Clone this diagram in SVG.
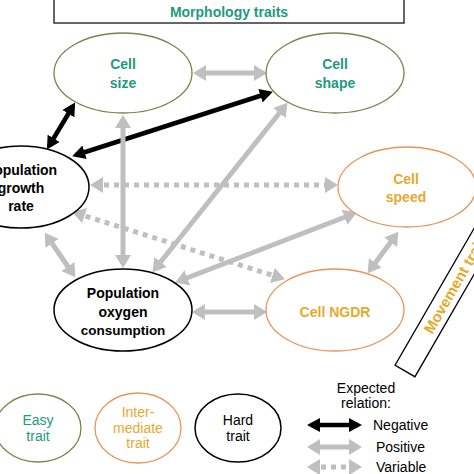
<svg xmlns="http://www.w3.org/2000/svg" width="474" height="474" viewBox="0 0 474 474">
<style>
text{font-family:"Liberation Sans",Arial,sans-serif;font-size:14px;text-anchor:middle}
.b{font-weight:bold}
.teal{fill:#1d9b7c}
.gold{fill:#e6a92e}
.blk{fill:#000}
.easy{fill:#fff;stroke:#76864a;stroke-width:1.3}
.mid{fill:#fff;stroke:#e8955a;stroke-width:1.3}
.hard{fill:#fff;stroke:#000;stroke-width:1.5}
.pos{stroke:#bfbfbf;stroke-width:5;fill:none;marker-start:url(#ag);marker-end:url(#ag)}
.var{stroke:#bfbfbf;stroke-width:5;fill:none;stroke-dasharray:5 5;marker-start:url(#ag);marker-end:url(#ag)}
.neg{stroke:#000;stroke-width:4.5;fill:none;marker-start:url(#ab);marker-end:url(#ab)}
</style>
<defs>
<marker id="ag" markerUnits="userSpaceOnUse" markerWidth="14" markerHeight="18" refX="9" refY="8" orient="auto-start-reverse" viewBox="0 0 14 16">
<path d="M0,0 L13,8 L0,16 z" fill="#bfbfbf"/>
</marker>
<marker id="ab" markerUnits="userSpaceOnUse" markerWidth="14" markerHeight="16" refX="9" refY="7" orient="auto-start-reverse" viewBox="0 0 14 14">
<path d="M0,0 L13,7 L0,14 z" fill="#000"/>
</marker>
</defs>
<rect width="474" height="474" fill="#fff"/>

<g id="morphology-box">
<rect x="54" y="-2" width="350" height="25" fill="#fff" stroke="#333" stroke-width="1.5"/>
<text x="229" y="17" class="b teal">Morphology traits</text>
</g>

<g id="movement-box" transform="translate(405,371) rotate(-60)">
<rect x="0" y="-11.5" width="220" height="23" fill="#fff" stroke="#000" stroke-width="1.3"/>
<text x="45" y="5.5" class="b gold" style="text-anchor:start;font-size:15px">Movement traits</text>
</g>

<g id="connectors">
<line class="pos" x1="197" y1="73" x2="263" y2="73"/>
<line class="neg" x1="73" y1="106" x2="49" y2="146"/>
<line class="neg" x1="269" y1="93" x2="76" y2="155"/>
<line class="pos" x1="123" y1="119" x2="123" y2="264"/>
<line class="pos" x1="285" y1="106" x2="155" y2="269"/>
<line class="var" x1="94" y1="185" x2="334" y2="185"/>
<line class="var" x1="76" y1="213" x2="281" y2="278"/>
<line class="pos" x1="47" y1="236" x2="73" y2="274"/>
<line class="pos" x1="179" y1="281" x2="353" y2="214"/>
<line class="pos" x1="196" y1="312" x2="263" y2="312"/>
<line class="pos" x1="396" y1="235" x2="370" y2="270"/>
</g>

<g id="cell-size">
<ellipse cx="123" cy="73" rx="69" ry="40" class="easy"/>
<text x="123" y="69" class="b teal">Cell</text>
<text x="123" y="88" class="b teal">size</text>
</g>
<g id="cell-shape">
<ellipse cx="335" cy="73" rx="69" ry="40" class="easy"/>
<text x="335" y="69" class="b teal">Cell</text>
<text x="335" y="88" class="b teal">shape</text>
</g>
<g id="population-growth-rate">
<ellipse cx="21" cy="187" rx="68" ry="41" class="hard"/>
<text x="21" y="175" class="b blk">Population</text>
<text x="21" y="193" class="b blk">growth</text>
<text x="21" y="211" class="b blk">rate</text>
</g>
<g id="cell-speed">
<ellipse cx="407" cy="187" rx="69" ry="40" class="mid"/>
<text x="406" y="184" class="b gold">Cell</text>
<text x="406" y="202" class="b gold">speed</text>
</g>
<g id="population-oxygen-consumption">
<ellipse cx="123" cy="310" rx="69" ry="41" class="hard"/>
<text x="123" y="298" class="b blk">Population</text>
<text x="123" y="317" class="b blk">oxygen</text>
<text x="123" y="335" class="b blk" style="font-size:13.5px">consumption</text>
</g>
<g id="cell-ngdr">
<ellipse cx="335" cy="310" rx="69" ry="41" class="mid"/>
<text x="335" y="317" class="b gold">Cell NGDR</text>
</g>

<g id="legend-easy">
<ellipse cx="38" cy="428" rx="43" ry="34" class="easy"/>
<text x="38" y="425" class="teal">Easy</text>
<text x="38" y="441" class="teal">trait</text>
</g>
<g id="legend-intermediate">
<ellipse cx="138" cy="428" rx="43" ry="35" class="mid"/>
<text x="138" y="417" class="gold">Inter-</text>
<text x="138" y="433" class="gold">mediate</text>
<text x="138" y="448" class="gold">trait</text>
</g>
<g id="legend-hard">
<ellipse cx="238" cy="428" rx="43" ry="34" class="hard"/>
<text x="238" y="425" class="blk">Hard</text>
<text x="238" y="441" class="blk">trait</text>
</g>
<g id="legend-relations">
<text x="366" y="393" class="blk">Expected</text>
<text x="366" y="408" class="blk">relation:</text>
<line class="neg" x1="311" y1="425" x2="358" y2="425"/>
<line class="pos" x1="311" y1="447" x2="358" y2="447"/>
<line class="var" x1="311" y1="467" x2="358" y2="467"/>
<text x="373" y="430" class="blk" style="text-anchor:start">Negative</text>
<text x="376" y="452" class="blk" style="text-anchor:start">Positive</text>
<text x="376" y="472" class="blk" style="text-anchor:start">Variable</text>
</g>
</svg>
